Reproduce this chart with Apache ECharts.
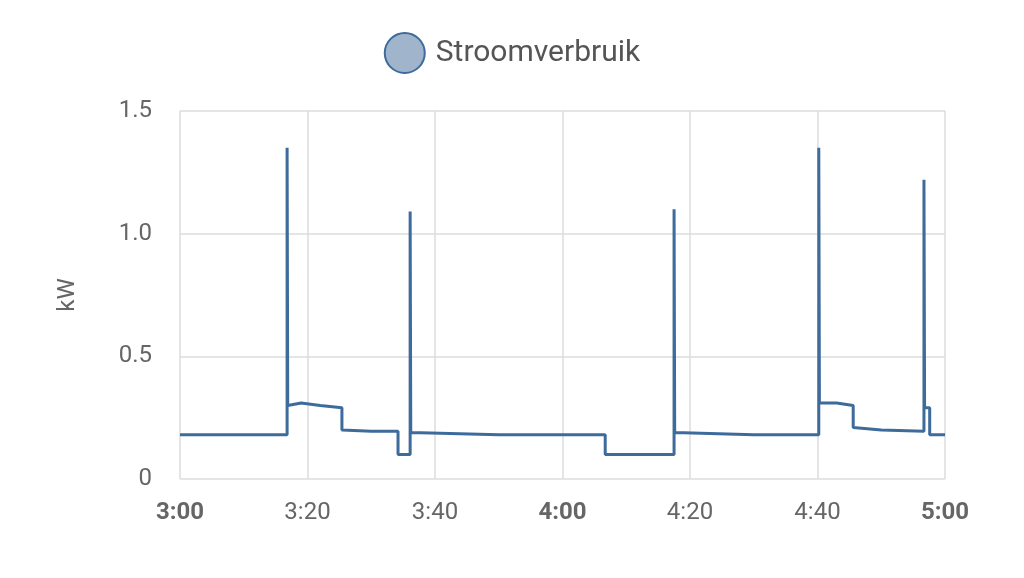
<!DOCTYPE html>
<html><head><meta charset="utf-8">
<script src="https://cdn.jsdelivr.net/npm/echarts@6/dist/echarts.min.js"></script>
<style>html,body{margin:0;background:#fff}#main{width:1024px;height:578px}</style>
</head><body><div id="main"></div>
<script>
// minutes after 3:00 and power in kW
var minutes = [0, 16.8, 16.8, 16.9, 16.9, 19, 22, 25.4, 25.4, 30, 34.2, 34.2, 36.1, 36.1, 36.2, 36.2, 50, 66.7, 66.7, 77.5, 77.5, 77.6, 77.6, 90, 100.2, 100.2, 100.3, 100.3, 103, 105.6, 105.6, 110, 116.7, 116.7, 116.8, 116.8, 117.6, 117.6, 120];
var values  = [0.18, 0.18, 1.35, 1.35, 0.30, 0.31, 0.30, 0.29, 0.20, 0.195, 0.195, 0.10, 0.10, 1.09, 1.09, 0.19, 0.18, 0.18, 0.10, 0.10, 1.10, 1.10, 0.19, 0.18, 0.18, 1.35, 1.35, 0.31, 0.31, 0.30, 0.21, 0.20, 0.195, 1.22, 1.22, 0.29, 0.29, 0.18, 0.18];
var yTicks = [0, 0.5, 1.0, 1.5];

var points = minutes.map(function (m, i) { return [m, values[i]]; });

var chart = echarts.init(document.getElementById('main'));
chart.setOption({
  animation: false,
  legend: {
    top: 27, left: 'center', itemWidth: 40, itemHeight: 40, icon: 'circle', itemGap: 14,
    textStyle: { fontSize: 30, color: '#555', fontFamily: 'Roboto', padding: [0, 0, 0, 6] },
    data: ['Stroomverbruik']
  },
  grid: { left: 180, right: 79, top: 111, bottom: 99 },
  xAxis: {
    type: 'value', min: 0, max: 120, interval: 20,
    axisLine: { show: false }, axisTick: { show: false },
    splitLine: { show: true, lineStyle: { color: '#ddd', width: 1.5 } },
    axisLabel: {
      margin: 22, fontSize: 24, color: '#666', fontFamily: 'Roboto',
      formatter: function (v) {
        var h = 3 + Math.floor(v / 60), m = v % 60;
        var s = h + ':' + (m < 10 ? '0' + m : m);
        return m === 0 ? '{b|' + s + '}' : s;
      },
      rich: { b: { fontWeight: 'bold', fontSize: 24, color: '#666', fontFamily: 'Roboto' } }
    }
  },
  yAxis: {
    type: 'value', min: yTicks[0], max: yTicks[yTicks.length - 1], interval: 0.5,
    name: 'kW', nameLocation: 'middle', nameGap: 100, nameRotate: 90,
    nameTextStyle: { fontSize: 24, color: '#666', fontFamily: 'Roboto' },
    axisLine: { show: false }, axisTick: { show: false },
    splitLine: { lineStyle: { color: '#ddd', width: 1.5 } },
    axisLabel: {
      margin: 28, fontSize: 24, color: '#666', fontFamily: 'Roboto',
      formatter: function (v) { return v === 0 ? '0' : v.toFixed(1); }
    }
  },
  series: [{
    name: 'Stroomverbruik', type: 'line', data: points, showSymbol: false,
    lineStyle: { color: '#3d6b9b', width: 3 },
    itemStyle: { color: '#a0b4cc', borderColor: '#3d6b9b', borderWidth: 2 }
  }]
});
</script></body></html>
